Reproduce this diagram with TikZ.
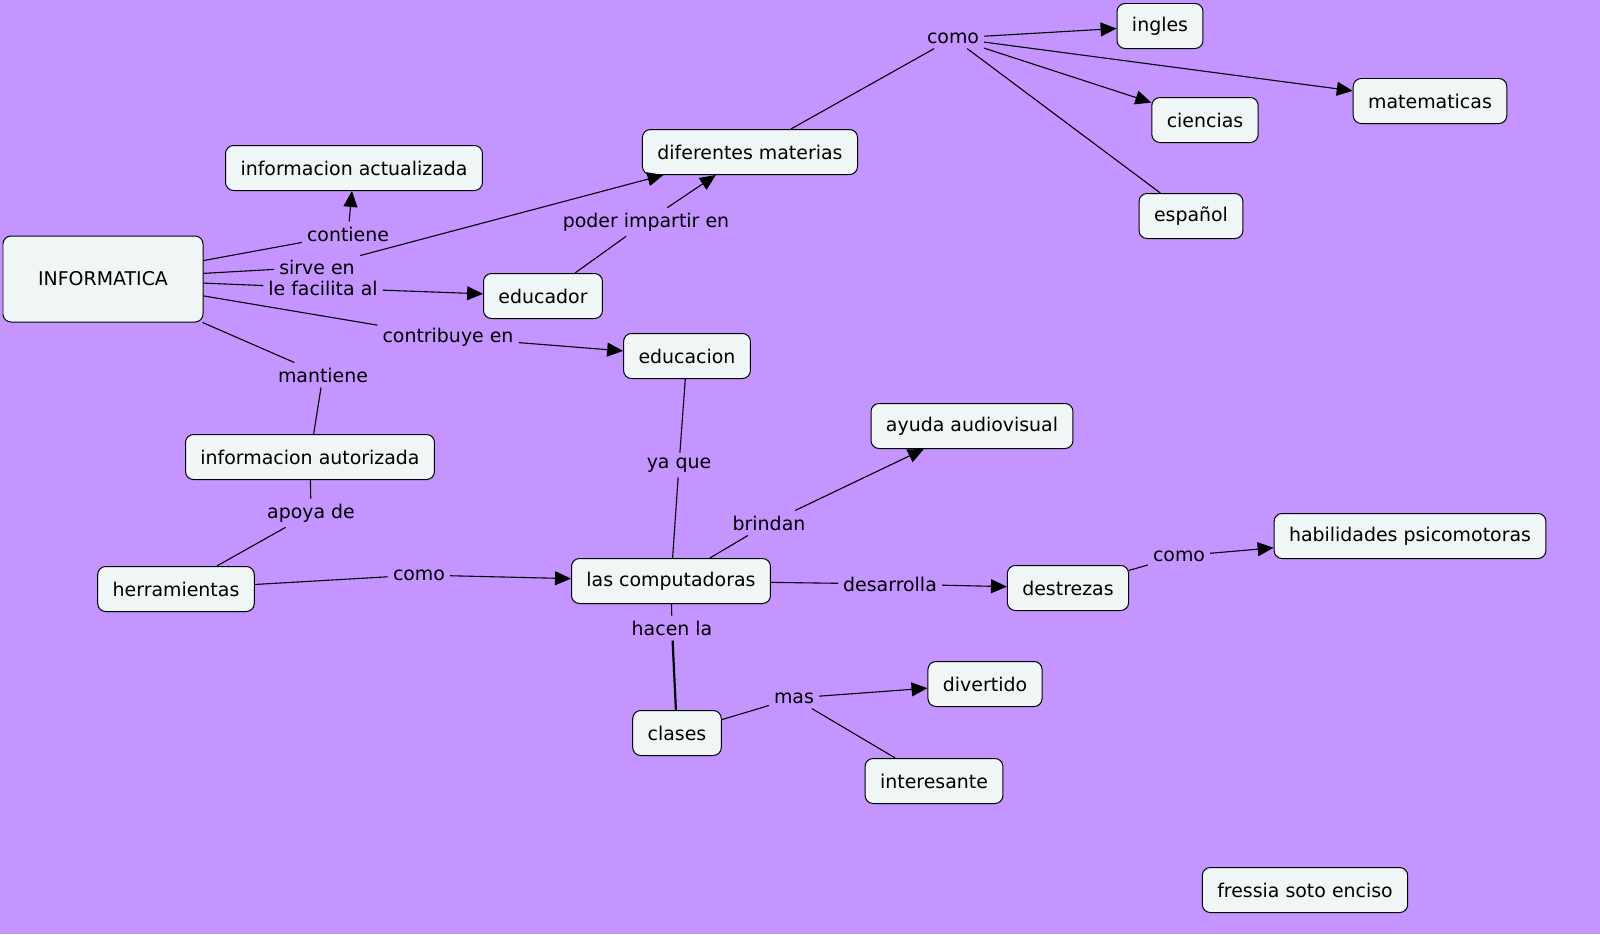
\documentclass[tikz,border=0pt]{standalone}
\usepackage{fontspec}
\setmainfont{DejaVu Sans}
\usetikzlibrary{arrows.meta}
\definecolor{bgviolet}{RGB}{196,148,255}
\definecolor{conceptfill}{RGB}{239,246,245}
\begin{document}
\begin{tikzpicture}[x=1bp, y=-1bp,
	concept/.style={draw=black, line width=1pt, fill=conceptfill, rounded corners=8pt,
		inner xsep=15pt, minimum height=45bp, font=\fontsize{19}{22}\selectfont},
	phrase/.style={inner sep=5pt, font=\fontsize{19}{22}\selectfont},
	link/.style={line width=1.1pt},
	tolink/.style={line width=1.1pt, -{Triangle[length=16pt,width=14pt]}}]
	
	\fill [bgviolet] (0,0) rectangle (1600,934);
	
	\node [concept, minimum width=200bp, minimum height=86bp] (informatica) at (103,279) {INFORMATICA};
	\node [concept] (actualizada)  at (354,168) {informacion actualizada};
	\node [concept] (materias)     at (750,152) {diferentes materias};
	\node [concept] (ingles)       at (1160,26) {ingles};
	\node [concept] (matematicas)  at (1430,101) {matematicas};
	\node [concept] (ciencias)     at (1205,120) {ciencias};
	\node [concept] (espanol)      at (1191,216) {español};
	\node [concept] (educador)     at (543,296) {educador};
	\node [concept] (educacion)    at (687,356) {educacion};
	\node [concept] (audiovisual)  at (972,426) {ayuda audiovisual};
	\node [concept] (autorizada)   at (310,457) {informacion autorizada};
	\node [concept] (herramientas) at (176,589) {herramientas};
	\node [concept] (computadoras) at (671,581) {las computadoras};
	\node [concept] (destrezas)    at (1068,588) {destrezas};
	\node [concept] (habilidades)  at (1410,536) {habilidades psicomotoras};
	\node [concept] (clases)       at (677,733) {clases};
	\node [concept] (divertido)    at (985,684) {divertido};
	\node [concept] (interesante)  at (934,781) {interesante};
	\node [concept] (autor)        at (1305,890) {fressia soto enciso};
	
	\node [phrase] (como-a)      at (953,38)  {como};
	\node [phrase] (contiene)    at (348,234) {contiene};
	\node [phrase] (sirve)       at (317,267) {sirve en};
	\node [phrase] (facilita)    at (323,288) {le facilita al};
	\node [phrase] (impartir)    at (646,222) {poder impartir en};
	\node [phrase] (contribuye)  at (448,337) {contribuye en};
	\node [phrase] (mantiene)    at (323,375) {mantiene};
	\node [phrase] (yaque)       at (679,465) {ya que};
	\node [phrase] (brindan)     at (769,523) {brindan};
	\node [phrase] (apoya)       at (311,513) {apoya de};
	\node [phrase] (como-b)      at (419,575) {como};
	\node [phrase] (desarrolla)  at (890,584) {desarrolla};
	\node [phrase] (como-c)      at (1179,556) {como};
	\node [phrase] (hacen)       at (672,628) {hacen la};
	\node [phrase] (mas)         at (794,698) {mas};
	
	% INFORMATICA
	\draw [link]   (informatica) -- (contiene);
	\draw [tolink] (contiene) -- (actualizada);
	\draw [link]   (informatica) -- (sirve);
	\draw [tolink] (sirve) -- (materias);
	\draw [link]   (informatica) -- (facilita);
	\draw [tolink] (facilita) -- (educador);
	\draw [link]   (educador) -- (impartir);
	\draw [tolink] (impartir) -- (materias);
	\draw [link]   (informatica) -- (contribuye);
	\draw [tolink] (contribuye) -- (educacion);
	\draw [link]   (informatica) -- (mantiene);
	\draw [link]   (mantiene) -- (autorizada);
	
	% materias
	\draw [link]   (materias) -- (como-a);
	\draw [tolink] (como-a) -- (ingles);
	\draw [tolink] (como-a) -- (matematicas);
	\draw [tolink] (como-a) -- (ciencias);
	\draw [link]   (como-a) -- (espanol);
	
	% computadoras
	\draw [link]   (autorizada) -- (apoya);
	\draw [link]   (apoya) -- (herramientas);
	\draw [link]   (herramientas) -- (como-b);
	\draw [tolink] (como-b) -- (computadoras);
	\draw [link]   (educacion) -- (yaque);
	\draw [link]   (yaque) -- (computadoras);
	\draw [link]   (computadoras) -- (brindan);
	\draw [tolink] (brindan) -- (audiovisual);
	\draw [link]   (computadoras) -- (desarrolla);
	\draw [tolink] (desarrolla) -- (destrezas);
	\draw [link]   (destrezas) -- (como-c);
	\draw [tolink] (como-c) -- (habilidades);
	\draw [link]   (computadoras) -- (hacen);
	\draw [link, line width=2.2pt] (hacen) -- (clases);
	\draw [link]   (clases) -- (mas);
	\draw [tolink] (mas) -- (divertido);
	\draw [link]   (mas) -- (interesante);
	
\end{tikzpicture}
\end{document}
